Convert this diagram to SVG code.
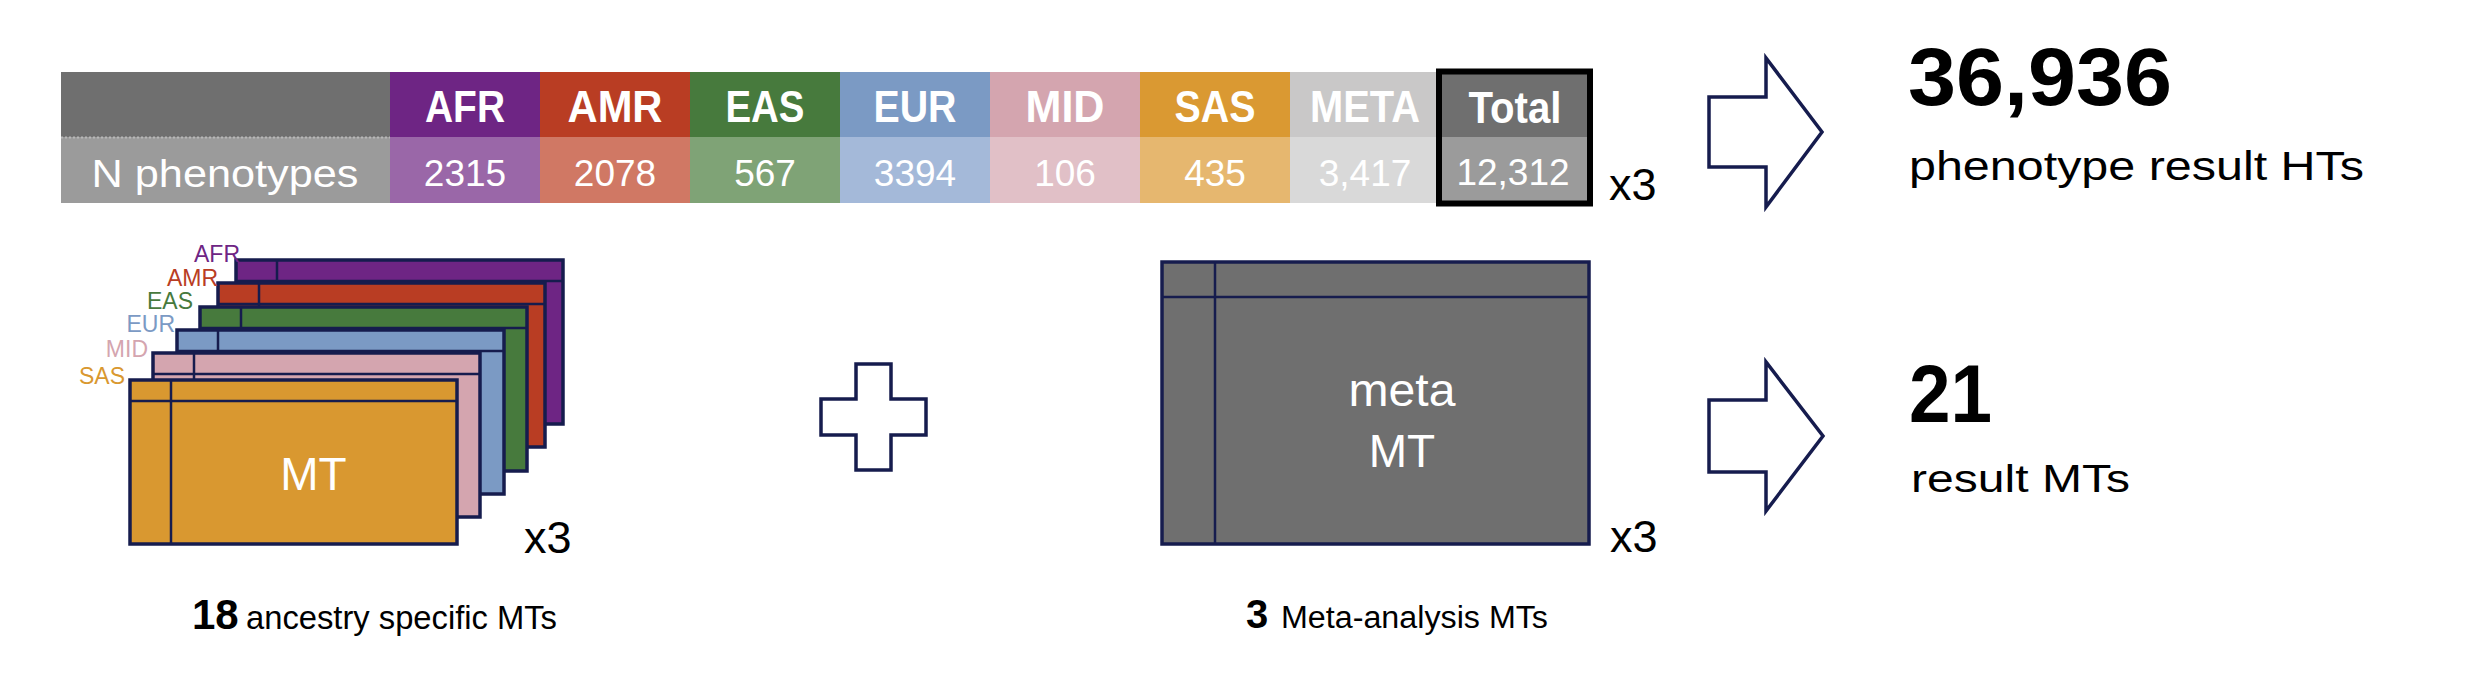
<svg xmlns="http://www.w3.org/2000/svg" xmlns:xlink="http://www.w3.org/1999/xlink" width="2466" height="688" viewBox="0 0 2466 688">
<style>
text { font-family: "Liberation Sans", Arial, Helvetica, sans-serif; }
.hd { font-weight: bold; font-size: 44px; fill: #ffffff; text-anchor: middle; }
.num { font-size: 37px; fill: #ffffff; text-anchor: middle; }
.frame { stroke: #161c4e; stroke-width: 3.5; }
.inner { stroke: #161c4e; stroke-width: 2.5; }
.lbl { font-size: 23px; text-anchor: end; }
.blk { fill: #000000; }
.x3 { font-size: 45px; fill: #000000; }
.wt { fill: #ffffff; text-anchor: middle; font-size: 46px; }
.arrow { fill: #ffffff; stroke: #161c4e; stroke-width: 3.5; stroke-linejoin: miter; }
</style>
<defs>
<g id="mtframe">
<rect x="0" y="0" width="327" height="164" class="frame"/>
<line x1="0" y1="21" x2="327" y2="21" class="inner"/>
<line x1="41" y1="0" x2="41" y2="164" class="inner"/>
</g>
</defs>
<rect x="0" y="0" width="2466" height="688" fill="#ffffff"/>

<g id="table">
<rect x="61" y="72" width="329" height="65" fill="#6f6f6f"/>
<rect x="61" y="137" width="329" height="66" fill="#9b9b9b"/>
<line x1="61" y1="137.5" x2="390" y2="137.5" stroke="#b8b8b8" stroke-width="2" stroke-dasharray="2,2"/>
<text x="225" y="187" font-size="38" fill="#ffffff" text-anchor="middle" textLength="267" lengthAdjust="spacingAndGlyphs">N phenotypes</text>

<g id="col-afr">
<rect x="390" y="72" width="150" height="65" fill="#6e2584"/>
<rect x="390" y="137" width="150" height="66" fill="#9a67a8"/>
<text x="465" y="122" class="hd" textLength="80" lengthAdjust="spacingAndGlyphs">AFR</text>
<text x="465" y="186" class="num">2315</text>
</g>
<g id="col-amr">
<rect x="540" y="72" width="150" height="65" fill="#b93d23"/>
<rect x="540" y="137" width="150" height="66" fill="#d07864"/>
<text x="615" y="122" class="hd" textLength="95" lengthAdjust="spacingAndGlyphs">AMR</text>
<text x="615" y="186" class="num">2078</text>
</g>
<g id="col-eas">
<rect x="690" y="72" width="150" height="65" fill="#477a3d"/>
<rect x="690" y="137" width="150" height="66" fill="#7fa376"/>
<text x="765" y="122" class="hd" textLength="79" lengthAdjust="spacingAndGlyphs">EAS</text>
<text x="765" y="186" class="num">567</text>
</g>
<g id="col-eur">
<rect x="840" y="72" width="150" height="65" fill="#7b9ac4"/>
<rect x="840" y="137" width="150" height="66" fill="#a4b9d9"/>
<text x="915" y="122" class="hd" textLength="83" lengthAdjust="spacingAndGlyphs">EUR</text>
<text x="915" y="186" class="num">3394</text>
</g>
<g id="col-mid">
<rect x="990" y="72" width="150" height="65" fill="#d4a5af"/>
<rect x="990" y="137" width="150" height="66" fill="#e1c0c7"/>
<text x="1065" y="122" class="hd" textLength="79" lengthAdjust="spacingAndGlyphs">MID</text>
<text x="1065" y="186" class="num">106</text>
</g>
<g id="col-sas">
<rect x="1140" y="72" width="150" height="65" fill="#da9932"/>
<rect x="1140" y="137" width="150" height="66" fill="#e6b76f"/>
<text x="1215" y="122" class="hd" textLength="81" lengthAdjust="spacingAndGlyphs">SAS</text>
<text x="1215" y="186" class="num">435</text>
</g>
<g id="col-meta">
<rect x="1290" y="72" width="150" height="65" fill="#c9c8c8"/>
<rect x="1290" y="137" width="150" height="66" fill="#d9d9d9"/>
<text x="1365" y="122" class="hd" textLength="110" lengthAdjust="spacingAndGlyphs">META</text>
<text x="1365" y="186" class="num">3,417</text>
</g>
<g id="col-total">
<rect x="1439" y="71.5" width="151" height="66" fill="#6f6f6f"/>
<rect x="1439" y="137" width="151" height="66.5" fill="#9b9b9b"/>
<rect x="1439" y="71.5" width="151" height="132" fill="none" stroke="#000000" stroke-width="6"/>
<text x="1515" y="123" class="hd" textLength="93" lengthAdjust="spacingAndGlyphs">Total</text>
<text x="1513" y="185" class="num">12,312</text>
</g>
<text x="1609" y="200" class="x3">x3</text>
</g>

<g id="ancestry-mts">
<g id="mt-afr"><use xlink:href="#mtframe" href="#mtframe" x="236" y="260" fill="#6e2584"/><text x="240" y="262" class="lbl" fill="#6e2584">AFR</text></g>
<g id="mt-amr"><use xlink:href="#mtframe" href="#mtframe" x="218" y="283" fill="#b93d23"/><text x="218" y="286" class="lbl" fill="#b93d23">AMR</text></g>
<g id="mt-eas"><use xlink:href="#mtframe" href="#mtframe" x="200" y="307" fill="#477a3d"/><text x="193" y="309" class="lbl" fill="#477a3d">EAS</text></g>
<g id="mt-eur"><use xlink:href="#mtframe" href="#mtframe" x="177" y="330" fill="#7b9ac4"/><text x="175" y="332" class="lbl" fill="#7b9ac4">EUR</text></g>
<g id="mt-mid"><use xlink:href="#mtframe" href="#mtframe" x="153" y="353" fill="#d4a5af"/><text x="148" y="357" class="lbl" fill="#d4a5af">MID</text></g>
<g id="mt-sas"><use xlink:href="#mtframe" href="#mtframe" x="130" y="380" fill="#d99830"/><text x="125" y="384" class="lbl" fill="#d99830">SAS</text>
<text x="313.5" y="490" class="wt">MT</text></g>
<text x="524" y="553" class="x3">x3</text>
<text x="192" y="629" font-size="42" font-weight="bold" class="blk">18</text>
<text x="246" y="629" font-size="33" class="blk" textLength="311" lengthAdjust="spacingAndGlyphs">ancestry specific MTs</text>
</g>

<g id="plus">
<polygon points="856,364 891,364 891,399 926,399 926,435 891,435 891,470 856,470 856,435 821,435 821,399 856,399" fill="#ffffff" stroke="#161c4e" stroke-width="3.5"/>
</g>

<g id="meta-mt">
<rect x="1162" y="262" width="427" height="282" fill="#6f6f6f" class="frame"/>
<line x1="1162" y1="297" x2="1589" y2="297" class="inner"/>
<line x1="1215" y1="262" x2="1215" y2="544" class="inner"/>
<text x="1402" y="406" class="wt" textLength="107" lengthAdjust="spacingAndGlyphs">meta</text>
<text x="1402" y="467" class="wt">MT</text>
<text x="1610" y="552" class="x3">x3</text>
<text x="1246" y="628" font-size="40" font-weight="bold" class="blk">3</text>
<text x="1281" y="628" font-size="31" class="blk" textLength="267" lengthAdjust="spacingAndGlyphs">Meta-analysis MTs</text>
</g>

<g id="connectors">
<polygon class="arrow" points="1709,97 1766,97 1766,58 1822,132 1766,207 1766,167 1709,167"/>
<polygon class="arrow" points="1709,400 1766,400 1766,362 1823,436 1766,511 1766,472 1709,472"/>
</g>

<g id="result-hts">
<text x="1908" y="105" font-size="82" font-weight="bold" class="blk" textLength="264" lengthAdjust="spacingAndGlyphs">36,936</text>
<text x="1909" y="180" font-size="40" class="blk" textLength="455" lengthAdjust="spacingAndGlyphs">phenotype result HTs</text>
</g>
<g id="result-mts">
<text x="1909" y="422" font-size="82" font-weight="bold" class="blk" textLength="83" lengthAdjust="spacingAndGlyphs">21</text>
<text x="1911" y="492" font-size="38" class="blk" textLength="219" lengthAdjust="spacingAndGlyphs">result MTs</text>
</g>
</svg>
